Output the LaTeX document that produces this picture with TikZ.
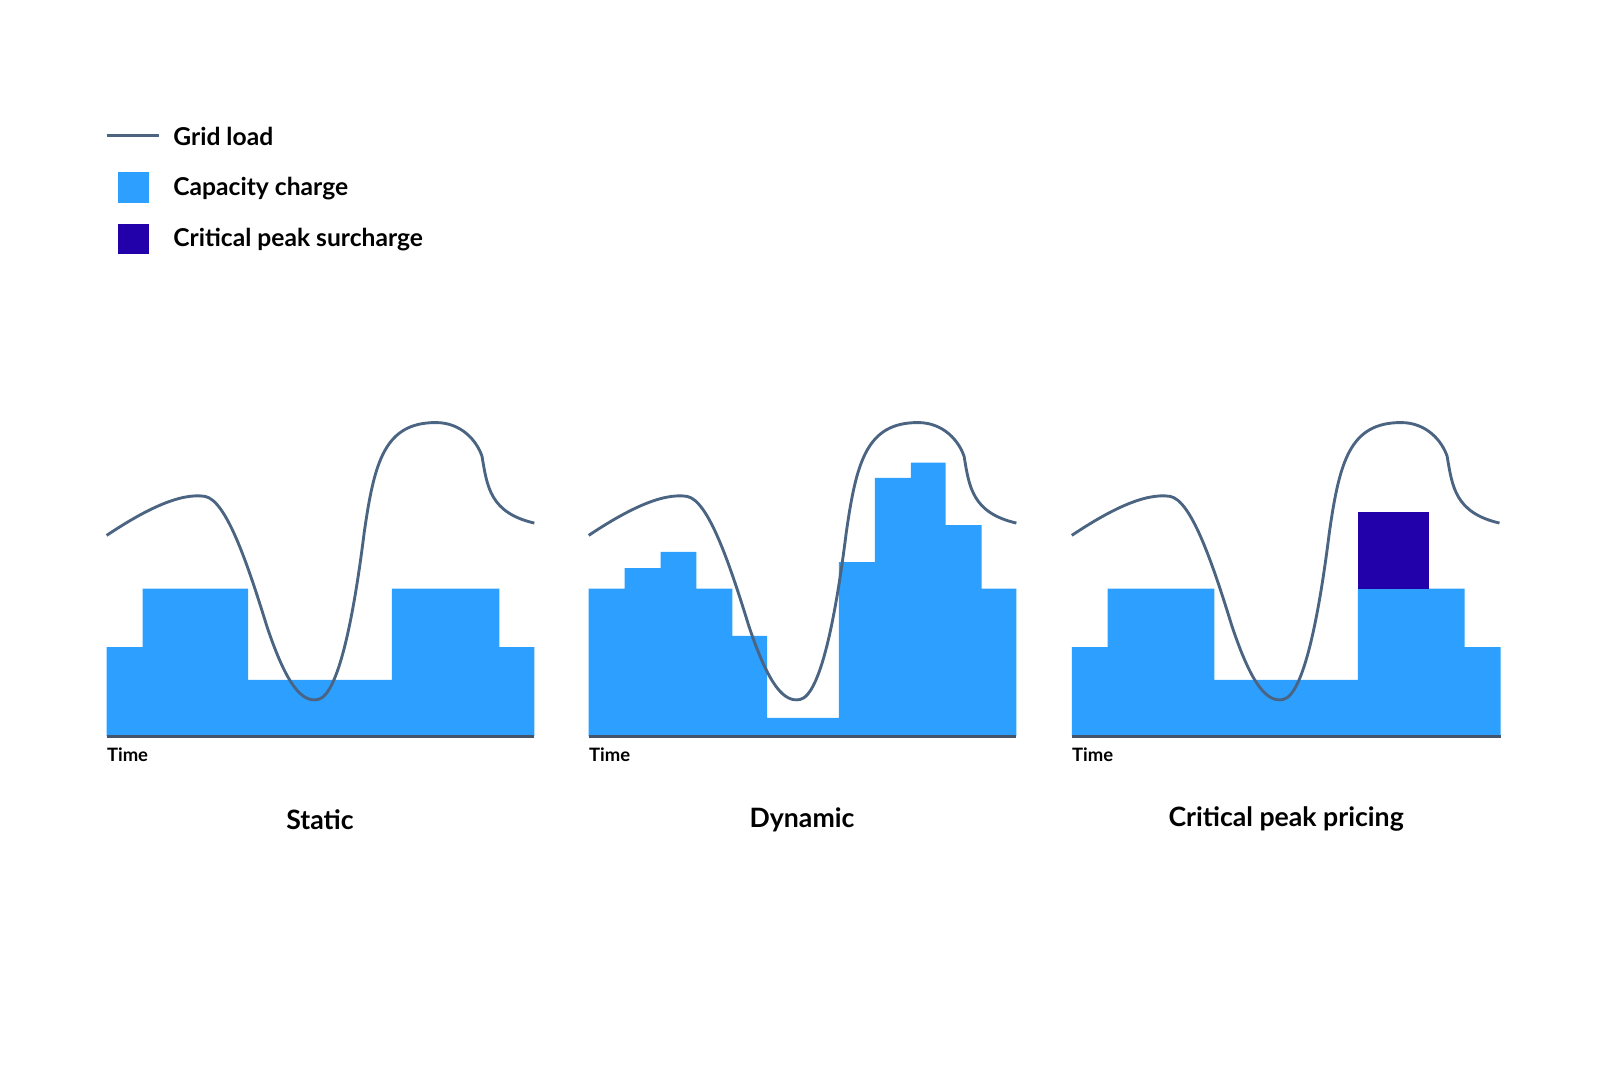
\documentclass[tikz,border=0pt]{standalone}
\usepackage{fontspec}
\setmainfont{Lato}
\definecolor{loadc}{HTML}{4A6482}
\definecolor{capc}{HTML}{2D9FFF}
\definecolor{critc}{HTML}{2200AA}
\definecolor{axc}{HTML}{44556A}
\tikzset{load/.style={draw=loadc,line width=1.4pt},
bar/.style={fill=capc},
crit/.style={fill=critc},
axis/.style={draw=axc,line width=1.5pt},
lbl/.style={font=\bfseries\fontsize{12}{14}\selectfont,anchor=west,text=black},
tlbl/.style={font=\bfseries\fontsize{9}{11}\selectfont,anchor=north west,inner sep=0pt},
ttl/.style={font=\bfseries\fontsize{13}{15}\selectfont}}
\begin{document}
\begin{tikzpicture}[x=0.5pt,y=-0.5pt]
\useasboundingbox (0,0) rectangle (1560,1053);
% legend
\coordinate (l1) at (104,132); \coordinate (l2) at (155,132);
\draw[load] (l1) -- (l2);
\node[lbl] (tg) at (162,133) {Grid load};
\fill[capc] (115,168) rectangle (145,198);
\node[lbl] (tc) at (162,184) {Capacity charge};
\fill[critc] (115,218) rectangle (145,248);
\node[lbl] (tp) at (162,234) {Critical peak surcharge};
% curve macro
\newcommand{\loadcurve}[1]{%
\begin{scope}[xshift=#1*0.5pt]
\draw[load] (104,522) .. controls (140,498) and (175,480) .. (200,484) .. controls (220,488) and (240,545) .. (260,610) .. controls (280,670) and (295,685) .. (310,682) .. controls (330,678) and (345,600) .. (355,520) .. controls (365,450) and (375,412) .. (425,412) .. controls (450,412) and (465,430) .. (470,445) .. controls (475,475) and (478,500) .. (521,510);
\end{scope}}
% panel 1
\fill[bar] (104,718) -- (104,631) -- (139,631) -- (139,574) -- (242,574) -- (242,663) -- (382,663) -- (382,574) -- (487,574) -- (487,631) -- (521,631) -- (521,718) -- cycle;
\loadcurve{0}
\draw[axis] (104,718) -- (521,718);
\node[tlbl] (t1) at (104,729) {Time};
\node[ttl] (s1) at (312,799) {Static};
% panel 2
\fill[bar] (574,718) -- (574,574) -- (609,574) -- (609,554) -- (644,554) -- (644,538) -- (679,538) -- (679,574) -- (714,574) -- (714,620) -- (748,620) -- (748,700) -- (818,700) -- (818,548) -- (853,548) -- (853,466) -- (888,466) -- (888,451) -- (922,451) -- (922,512) -- (957,512) -- (957,574) -- (991,574) -- (991,718) -- cycle;
\loadcurve{470}
\draw[axis] (574,718) -- (991,718);
\node[tlbl] (t2) at (574,729) {Time};
\node[ttl] (s2) at (782,799) {Dynamic};
% panel 3
\fill[bar] (1045,718) -- (1045,631) -- (1080,631) -- (1080,574) -- (1184,574) -- (1184,663) -- (1324,663) -- (1324,574) -- (1428,574) -- (1428,631) -- (1463,631) -- (1463,718) -- cycle;
\fill[crit] (1324,499) rectangle (1393,574);
\loadcurve{941}
\draw[axis] (1045,718) -- (1463,718);
\node[tlbl] (t3) at (1045,729) {Time};
\node[ttl] (s3) at (1254,799) {Critical peak pricing};
\end{tikzpicture}
\end{document}
